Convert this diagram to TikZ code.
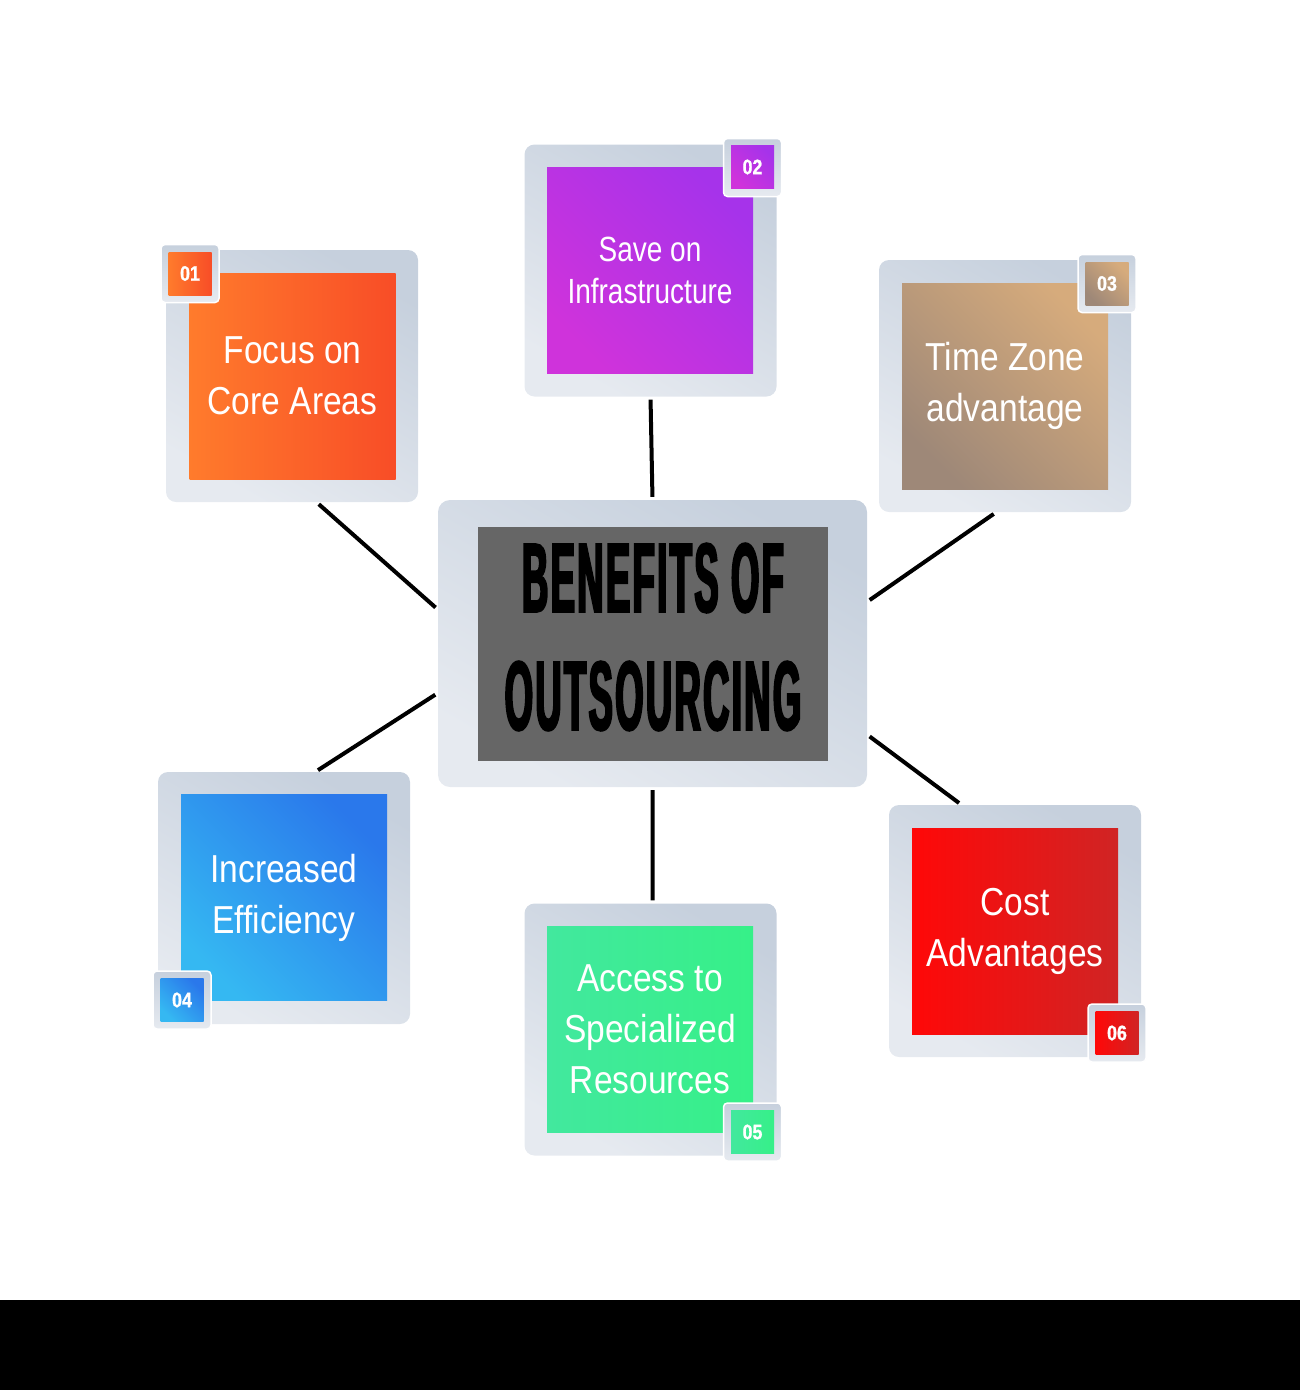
\documentclass[tikz,border=0pt]{standalone}
\usepackage{fontspec}
\setmainfont{Liberation Sans}
\newfontfamily\tilefont{Liberation Sans}[FakeStretch=0.86]
\newfontfamily\narrowtilefont{Liberation Sans}[FakeStretch=0.80]
\newfontfamily\titlefont{Liberation Sans}[FakeStretch=0.37,FakeBold=2.2,LetterSpace=2.5]
\newfontfamily\numfont{Liberation Sans}[FakeStretch=0.85,FakeBold=1]

% colours of the tiles
\definecolor{frametop}{HTML}{C6D0DD}
\definecolor{framebot}{HTML}{E6EAF0}
\definecolor{orangeL}{HTML}{FF7B2C}
\definecolor{orangeR}{HTML}{F84D27}
\definecolor{purpleTR}{HTML}{A633EA}
\definecolor{purpleBL}{HTML}{CF33DB}
\definecolor{tanTR}{HTML}{D6AB7C}
\definecolor{tanBL}{HTML}{9E8878}
\definecolor{blueTR}{HTML}{2A78EB}
\definecolor{blueBL}{HTML}{35B8F2}
\definecolor{greenL}{HTML}{42E89E}
\definecolor{greenR}{HTML}{36F088}
\definecolor{redL}{HTML}{FF0808}
\definecolor{redR}{HTML}{D02424}
\definecolor{titlegray}{HTML}{666666}

\begin{document}
\begin{tikzpicture}[x=1pt, y=-1pt,
    frame/.style={rounded corners=10pt, minimum width=252pt, minimum height=252pt, inner sep=0pt,
                  top color=frametop, bottom color=framebot, shading angle=-30},
    tile/.style={minimum width=206pt, minimum height=206pt, inner sep=0pt, align=center, text=white,
                 font=\tilefont\fontsize{39}{51}\selectfont},
    badgebox/.style={rounded corners=4pt, minimum size=58pt, inner sep=0pt, draw=white, line width=1.5pt,
                     top color=frametop, bottom color=framebot},
    badge/.style={minimum size=43pt, inner sep=0pt, text=white,
                  font=\numfont\bfseries\fontsize{21}{21}\selectfont},
    link/.style={line width=4pt, shorten <=3pt, shorten >=3pt}
]

        \useasboundingbox (0,0) rectangle (1300,1390);

        % Centre block
        \node[frame, minimum width=429pt, minimum height=287pt, rounded corners=12pt] (centre) at (652.5,643.5) {};
        \node[fill=titlegray, minimum width=350pt, minimum height=234pt, inner sep=0pt] (centretile) at (653,644) {};
        \node[font=\titlefont\bfseries\fontsize{98}{118}\selectfont, align=center] (title) at (653,637) {BENEFITS OF\\OUTSOURCING};

        % 01 Focus on Core Areas
        \node[frame] (f1) at (292,376) {};
        \node[tile, left color=orangeL, right color=orangeR] (t1) at (292.5,376) {Focus on\\Core Areas};
        \node[badgebox] (bb1) at (190,273.5) {};
        \node[badge, left color=orangeL, right color=orangeR] (b1) at (190,273.5) {01};

        % 02 Save on Infrastructure
        \node[frame] (f2) at (650.5,270.5) {};
        \node[tile, top color=purpleTR, bottom color=purpleBL, shading angle=-45,
              font=\narrowtilefont\fontsize{35}{42}\selectfont] (t2) at (650,270) {Save on\\Infrastructure};
        \node[badgebox] (bb2) at (752.5,167.5) {};
        \node[badge, top color=purpleTR, bottom color=purpleBL, shading angle=-45] (b2) at (752.5,167) {02};

        % 03 Time Zone advantage
        \node[frame] (f3) at (1005,386) {};
        \node[tile, top color=tanTR, bottom color=tanBL, shading angle=-45] (t3) at (1005,386) {Time Zone\\advantage};
        \node[badgebox] (bb3) at (1107,283.5) {};
        \node[badge, top color=tanTR, bottom color=tanBL, shading angle=-45] (b3) at (1107,283.5) {03};

        % 04 Increased Efficiency
        \node[frame] (f4) at (284,898) {};
        \node[tile, top color=blueTR, bottom color=blueBL, shading angle=-45] (t4) at (284,897.5) {Increased\\Efficiency};
        \node[badgebox] (bb4) at (182,1000) {};
        \node[badge, top color=blueTR, bottom color=blueBL, shading angle=-45] (b4) at (182,1000) {04};

        % 05 Access to Specialized Resources
        \node[frame] (f5) at (650.5,1029.5) {};
        \node[tile, left color=greenL, right color=greenR] (t5) at (650,1029) {Access to\\Specialized\\Resources};
        \node[badgebox] (bb5) at (752.5,1132) {};
        \node[badge, left color=greenL, right color=greenR] (b5) at (752.5,1132) {05};

        % 06 Cost Advantages
        \node[frame] (f6) at (1015,931) {};
        \node[tile, left color=redL, right color=redR] (t6) at (1015,931) {Cost\\Advantages};
        \node[badgebox] (bb6) at (1117,1033) {};
        \node[badge, left color=redL, right color=redR] (b6) at (1117,1033) {06};

        % Spokes to the centre
        \draw[link] (f1.-79) -- (centre.171);
        \draw[link] (f2.south) -- (centre.north);
        \draw[link] (f3.266) -- (centre.11);
        \draw[link] (f4.76) -- (centre.193);
        \draw[link] (f5.89) -- (centre.south);
        \draw[link] (f6.113) -- (centre.-23);

        % Bottom strip
        \fill[black] (0,1300) rectangle (1300,1390);

    \end{tikzpicture}
\end{document}
